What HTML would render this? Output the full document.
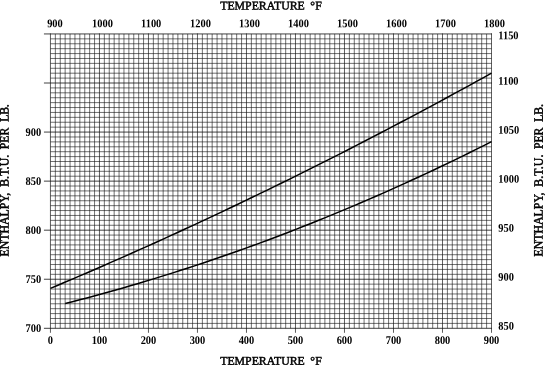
<!DOCTYPE html>
<html lang="en"><head><meta charset="utf-8"><title>Enthalpy chart</title>
<style>html,body{margin:0;padding:0;background:#fff}svg{display:block}text{font-family:"Liberation Serif","Times New Roman",serif;fill:#000}</style></head><body>
<svg width="545" height="365" viewBox="0 0 545 365">
<rect width="545" height="365" fill="#fff"/>
<path d="M55.351 33.95V328.30M60.251 33.95V328.30M65.152 33.95V328.30M70.052 33.95V328.30M74.953 33.95V328.30M79.853 33.95V328.30M84.754 33.95V328.30M89.654 33.95V328.30M94.555 33.95V328.30M104.356 33.95V328.30M109.257 33.95V328.30M114.157 33.95V328.30M119.058 33.95V328.30M123.958 33.95V328.30M128.859 33.95V328.30M133.759 33.95V328.30M138.660 33.95V328.30M143.561 33.95V328.30M153.362 33.95V328.30M158.262 33.95V328.30M163.163 33.95V328.30M168.063 33.95V328.30M172.964 33.95V328.30M177.864 33.95V328.30M182.765 33.95V328.30M187.666 33.95V328.30M192.566 33.95V328.30M202.367 33.95V328.30M207.268 33.95V328.30M212.168 33.95V328.30M217.069 33.95V328.30M221.969 33.95V328.30M226.870 33.95V328.30M231.771 33.95V328.30M236.671 33.95V328.30M241.572 33.95V328.30M251.373 33.95V328.30M256.273 33.95V328.30M261.174 33.95V328.30M266.074 33.95V328.30M270.975 33.95V328.30M275.876 33.95V328.30M280.776 33.95V328.30M285.677 33.95V328.30M290.577 33.95V328.30M300.378 33.95V328.30M305.279 33.95V328.30M310.179 33.95V328.30M315.080 33.95V328.30M319.981 33.95V328.30M324.881 33.95V328.30M329.782 33.95V328.30M334.682 33.95V328.30M339.583 33.95V328.30M349.384 33.95V328.30M354.284 33.95V328.30M359.185 33.95V328.30M364.086 33.95V328.30M368.986 33.95V328.30M373.887 33.95V328.30M378.787 33.95V328.30M383.688 33.95V328.30M388.588 33.95V328.30M398.389 33.95V328.30M403.290 33.95V328.30M408.191 33.95V328.30M413.091 33.95V328.30M417.992 33.95V328.30M422.892 33.95V328.30M427.793 33.95V328.30M432.693 33.95V328.30M437.594 33.95V328.30M447.395 33.95V328.30M452.296 33.95V328.30M457.196 33.95V328.30M462.097 33.95V328.30M466.997 33.95V328.30M471.898 33.95V328.30M476.798 33.95V328.30M481.699 33.95V328.30M486.599 33.95V328.30M50.45 38.856H491.50M50.45 43.762H491.50M50.45 48.668H491.50M50.45 53.573H491.50M50.45 58.479H491.50M50.45 63.385H491.50M50.45 68.291H491.50M50.45 73.197H491.50M50.45 78.103H491.50M50.45 87.914H491.50M50.45 92.820H491.50M50.45 97.726H491.50M50.45 102.632H491.50M50.45 107.538H491.50M50.45 112.443H491.50M50.45 117.349H491.50M50.45 122.255H491.50M50.45 127.161H491.50M50.45 136.973H491.50M50.45 141.878H491.50M50.45 146.784H491.50M50.45 151.690H491.50M50.45 156.596H491.50M50.45 161.502H491.50M50.45 166.408H491.50M50.45 171.313H491.50M50.45 176.219H491.50M50.45 186.031H491.50M50.45 190.937H491.50M50.45 195.843H491.50M50.45 200.748H491.50M50.45 205.654H491.50M50.45 210.560H491.50M50.45 215.466H491.50M50.45 220.372H491.50M50.45 225.278H491.50M50.45 235.089H491.50M50.45 239.995H491.50M50.45 244.901H491.50M50.45 249.807H491.50M50.45 254.713H491.50M50.45 259.618H491.50M50.45 264.524H491.50M50.45 269.430H491.50M50.45 274.336H491.50M50.45 284.148H491.50M50.45 289.053H491.50M50.45 293.959H491.50M50.45 298.865H491.50M50.45 303.771H491.50M50.45 308.677H491.50M50.45 313.583H491.50M50.45 318.488H491.50M50.45 323.394H491.50" fill="none" stroke="#111" stroke-width="0.6"/>
<path d="M43.95 33.950H492.00M43.95 83.008H492.00M43.95 132.067H492.00M43.95 181.125H492.00M43.95 230.183H492.00M43.95 279.242H492.00M43.95 328.300H492.00" fill="none" stroke="#111" stroke-width="0.8"/>
<path d="M50.450 33.45V332.80M99.456 33.45V332.80M148.461 33.45V332.80M197.467 33.45V332.80M246.472 33.45V332.80M295.478 33.45V332.80M344.483 33.45V332.80M393.489 33.45V332.80M442.494 33.45V332.80M491.500 33.45V332.80" fill="none" stroke="#111" stroke-width="0.68"/>
<path d="M50.45 288.36L57.93 285.21L65.40 282.04L72.88 278.86L80.35 275.65L87.83 272.44L95.30 269.20L102.78 265.95L110.25 262.68L117.73 259.39L125.20 256.09L132.68 252.77L140.16 249.43L147.63 246.07L155.11 242.70L162.58 239.31L170.06 235.90L177.53 232.48L185.01 229.04L192.48 225.58L199.96 222.10L207.43 218.61L214.91 215.10L222.38 211.57L229.86 208.03L237.34 204.46L244.81 200.89L252.29 197.29L259.76 193.68L267.24 190.05L274.71 186.40L282.19 182.73L289.66 179.05L297.14 175.35L304.61 171.64L312.09 167.90L319.57 164.15L327.04 160.39L334.52 156.60L341.99 152.80L349.47 148.98L356.94 145.14L364.42 141.29L371.89 137.42L379.37 133.53L386.84 129.63L394.32 125.71L401.79 121.77L409.27 117.81L416.75 113.84L424.22 109.85L431.70 105.84L439.17 101.81L446.65 97.77L454.12 93.71L461.60 89.64L469.07 85.54L476.55 81.43L484.02 77.30L491.50 73.16" fill="none" stroke="#000" stroke-width="1.5"/>
<path d="M65.20 303.53L72.43 301.69L79.65 299.81L86.88 297.91L94.10 295.97L101.33 294.00L108.55 292.01L115.78 289.98L123.00 287.92L130.23 285.82L137.45 283.70L144.68 281.55L151.91 279.36L159.13 277.15L166.36 274.90L173.58 272.62L180.81 270.32L188.03 267.98L195.26 265.60L202.48 263.20L209.71 260.77L216.93 258.31L224.16 255.81L231.38 253.29L238.61 250.73L245.84 248.14L253.06 245.52L260.29 242.87L267.51 240.19L274.74 237.48L281.96 234.73L289.19 231.96L296.41 229.15L303.64 226.32L310.86 223.45L318.09 220.55L325.32 217.62L332.54 214.66L339.77 211.67L346.99 208.65L354.22 205.59L361.44 202.51L368.67 199.39L375.89 196.25L383.12 193.07L390.34 189.86L397.57 186.62L404.79 183.35L412.02 180.05L419.25 176.71L426.47 173.35L433.70 169.95L440.92 166.53L448.15 163.07L455.37 159.58L462.60 156.06L469.82 152.51L477.05 148.93L484.27 145.32L491.50 141.68" fill="none" stroke="#000" stroke-width="1.5"/>
<g font-size="11.8" font-weight="bold">
<text transform="translate(47.15 27.3) rotate(0.03) scale(0.885 1)">900</text>
<text transform="translate(92.06 27.3) rotate(0.03) scale(0.885 1)">1000</text>
<text transform="translate(141.06 27.3) rotate(0.03) scale(0.885 1)">1100</text>
<text transform="translate(190.07 27.3) rotate(0.03) scale(0.885 1)">1200</text>
<text transform="translate(239.07 27.3) rotate(0.03) scale(0.885 1)">1300</text>
<text transform="translate(288.08 27.3) rotate(0.03) scale(0.885 1)">1400</text>
<text transform="translate(337.08 27.3) rotate(0.03) scale(0.885 1)">1500</text>
<text transform="translate(386.09 27.3) rotate(0.03) scale(0.885 1)">1600</text>
<text transform="translate(435.09 27.3) rotate(0.03) scale(0.885 1)">1700</text>
<text transform="translate(484.10 27.3) rotate(0.03) scale(0.885 1)">1800</text>
<text transform="translate(50.45 343.9) rotate(0.03) scale(0.885 1)" text-anchor="middle">0</text>
<text transform="translate(99.46 343.9) rotate(0.03) scale(0.885 1)" text-anchor="middle">100</text>
<text transform="translate(148.46 343.9) rotate(0.03) scale(0.885 1)" text-anchor="middle">200</text>
<text transform="translate(197.47 343.9) rotate(0.03) scale(0.885 1)" text-anchor="middle">300</text>
<text transform="translate(246.47 343.9) rotate(0.03) scale(0.885 1)" text-anchor="middle">400</text>
<text transform="translate(295.48 343.9) rotate(0.03) scale(0.885 1)" text-anchor="middle">500</text>
<text transform="translate(344.48 343.9) rotate(0.03) scale(0.885 1)" text-anchor="middle">600</text>
<text transform="translate(393.49 343.9) rotate(0.03) scale(0.885 1)" text-anchor="middle">700</text>
<text transform="translate(442.49 343.9) rotate(0.03) scale(0.885 1)" text-anchor="middle">800</text>
<text transform="translate(491.50 343.9) rotate(0.03) scale(0.885 1)" text-anchor="middle">900</text>
<text transform="translate(41.2 331.90) rotate(0.03) scale(0.885 1)" text-anchor="end">700</text>
<text transform="translate(41.2 282.90) rotate(0.03) scale(0.885 1)" text-anchor="end">750</text>
<text transform="translate(41.2 233.90) rotate(0.03) scale(0.885 1)" text-anchor="end">800</text>
<text transform="translate(41.2 184.90) rotate(0.03) scale(0.885 1)" text-anchor="end">850</text>
<text transform="translate(41.2 135.90) rotate(0.03) scale(0.885 1)" text-anchor="end">900</text>
<text transform="translate(498.3 329.70) rotate(0.03) scale(0.885 1)">850</text>
<text transform="translate(498.3 280.70) rotate(0.03) scale(0.885 1)">900</text>
<text transform="translate(498.3 231.70) rotate(0.03) scale(0.885 1)">950</text>
<text transform="translate(498.3 182.70) rotate(0.03) scale(0.885 1)">1000</text>
<text transform="translate(498.3 133.70) rotate(0.03) scale(0.885 1)">1050</text>
<text transform="translate(498.3 84.70) rotate(0.03) scale(0.885 1)">1100</text>
<text transform="translate(498.3 39.30) rotate(0.03) scale(0.885 1)">1150</text>
</g>
<g font-size="11.8" stroke="#000" stroke-width="0.45">
<text transform="translate(220.2 9.4) rotate(0.03)"><tspan x="0">TEMPERATURE</tspan> <tspan x="90.1">°</tspan><tspan x="95">F</tspan></text>
<text transform="translate(220.2 364.8) rotate(0.03)"><tspan x="0">TEMPERATURE</tspan> <tspan x="90.1">°</tspan><tspan x="95">F</tspan></text>
<text transform="translate(8.45 256.3) rotate(-89.97) scale(1 1.08)" font-size="11.8"><tspan x="-0.25" letter-spacing="0.02">ENTHALPY,</tspan> <tspan x="69.45" letter-spacing="0.11">B.T.U.</tspan> <tspan x="107.15" letter-spacing="-0.1">PER</tspan> <tspan x="134.45" letter-spacing="-0.2">LB.</tspan></text>
<text transform="translate(542.6 256.2) rotate(-89.97) scale(1 1.08)" font-size="11.8"><tspan x="-0.25" letter-spacing="0.02">ENTHALPY,</tspan> <tspan x="69.45" letter-spacing="0.11">B.T.U.</tspan> <tspan x="107.15" letter-spacing="-0.1">PER</tspan> <tspan x="134.45" letter-spacing="-0.2">LB.</tspan></text>
</g>
</svg></body></html>
